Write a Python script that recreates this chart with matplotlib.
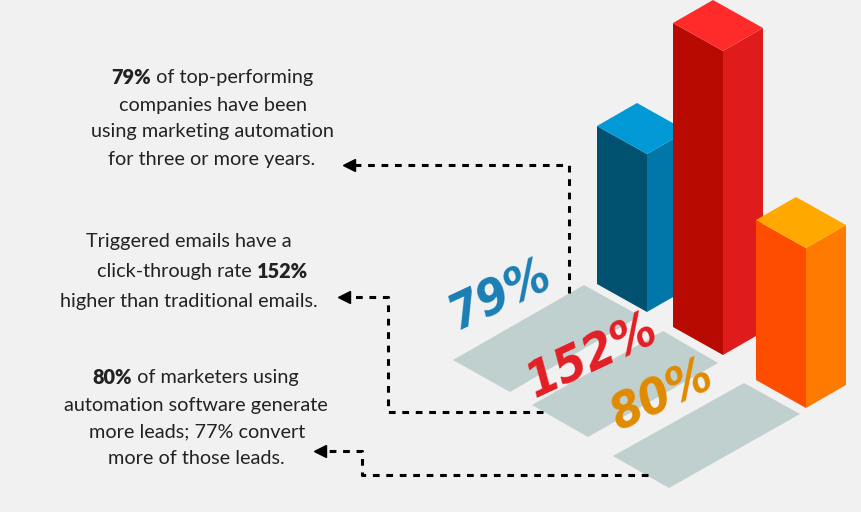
import matplotlib.pyplot as plt
from matplotlib.patches import Polygon

# bar data
labels = ["79%", "152%", "80%"]
values = [79, 152, 80]
face_colors = [("#00506f", "#0077a8", "#0099d6"),
               ("#b80a00", "#e01b1b", "#ff2a2a"),
               ("#ff4d00", "#ff7a00", "#ffa800")]
label_colors = ["#1a7fb5", "#e31e24", "#e08a00"]

# left-hand captions: list of (segments, y), segment = (text, bold)
captions = [
    ([("79%", True), (" of top-performing", False)], 78),
    ([("companies have been", False)], 105),
    ([("using marketing automation", False)], 132),
    ([("for three or more years.", False)], 160),
    ([("Triggered emails have a", False)], 242),
    ([("click-through rate ", False), ("152%", True)], 272),
    ([("higher than traditional emails.", False)], 302),
    ([("80%", True), (" of marketers using", False)], 377),
    ([("automation software generate", False)], 405),
    ([("more leads; 77% convert", False)], 432),
    ([("more of those leads.", False)], 459),
]
caption_cx = [212, 213, 212, 212, 189, 203, 189, 196, 196, 197, 196]

plt.rcParams["font.family"] = ["Lato", "DejaVu Sans"]
W, H = 862, 512
fig = plt.figure(figsize=(W / 100, H / 100), dpi=100, facecolor="#f1f1f1")
ax = fig.add_axes([0, 0, 1, 1])
ax.set_xlim(0, W)
ax.set_ylim(H, 0)
ax.axis("off")
ax.set_facecolor("#f1f1f1")

# floor plates
floor = "#c0d0ce"
plates = [[(453, 360), (584, 285), (640, 316), (510, 392)],
          [(532, 405), (663, 331), (718, 363), (588, 437)],
          [(613, 456), (744, 383), (800, 414), (669, 488)]]
for p in plates:
    ax.add_patch(Polygon(p, closed=True, color=floor, lw=0, zorder=1))

# isometric bars
bases = [(647, 312), (723, 355), (806, 408)]
lv, rv = (50, 28), (40, -23)
scale = 2.0
for (fx, fy), v, (cl, cr, ct) in zip(bases, values, face_colors):
    h = v * scale
    ty = fy - h
    left = [(fx - lv[0], fy - lv[1]), (fx, fy), (fx, ty), (fx - lv[0], ty - lv[1])]
    right = [(fx, fy), (fx + rv[0], fy + rv[1]), (fx + rv[0], ty + rv[1]), (fx, ty)]
    top = [(fx, ty), (fx + rv[0], ty + rv[1]),
           (fx + rv[0] - lv[0], ty + rv[1] - lv[1]), (fx - lv[0], ty - lv[1])]
    for pts, c in [(left, cl), (right, cr), (top, ct)]:
        ax.add_patch(Polygon(pts, closed=True, color=c, lw=0, zorder=3))

# big percent labels on the floor
label_pos = [(500, 295), (592, 357), (662, 396)]
for (x, y), t, c in zip(label_pos, labels, label_colors):
    ax.text(x, y, t, color=c, fontsize=36, fontweight="bold", fontstyle="oblique",
            family="DejaVu Sans", fontstretch="condensed", rotation=25,
            ha="center", va="center", zorder=4)

# dashed leader lines
leaders = [[(569, 293), (569, 165), (352, 165)],
           [(543, 412), (388, 412), (388, 297), (347, 297)],
           [(648, 475), (362, 475), (362, 451), (323, 451)]]
for pts in leaders:
    xs, ys = zip(*pts)
    ax.plot(xs, ys, color="black", lw=2.2, ls=(0, (2.2, 2.2)), zorder=2)
    ax.plot(xs[-1] - 3, ys[-1], marker="<", color="black", ms=9, zorder=2)

# captions with mixed bold segments, centred on each line
fig.canvas.draw()
r = fig.canvas.get_renderer()
inv = ax.transData.inverted()
for (segs, y), cx in zip(captions, caption_cx):
    items = [ax.text(0, y, t, fontsize=14.3, color="#222222",
                     fontweight="heavy" if b else "normal", va="center")
             for t, b in segs]
    widths = []
    for it in items:
        bb = it.get_window_extent(r)
        x0 = inv.transform((bb.x0, 0))[0]
        x1 = inv.transform((bb.x1, 0))[0]
        widths.append(x1 - x0)
    x = cx - sum(widths) / 2
    for it, w in zip(items, widths):
        it.set_x(x)
        x += w

fig.savefig("out.png", dpi=100, facecolor=fig.get_facecolor())
